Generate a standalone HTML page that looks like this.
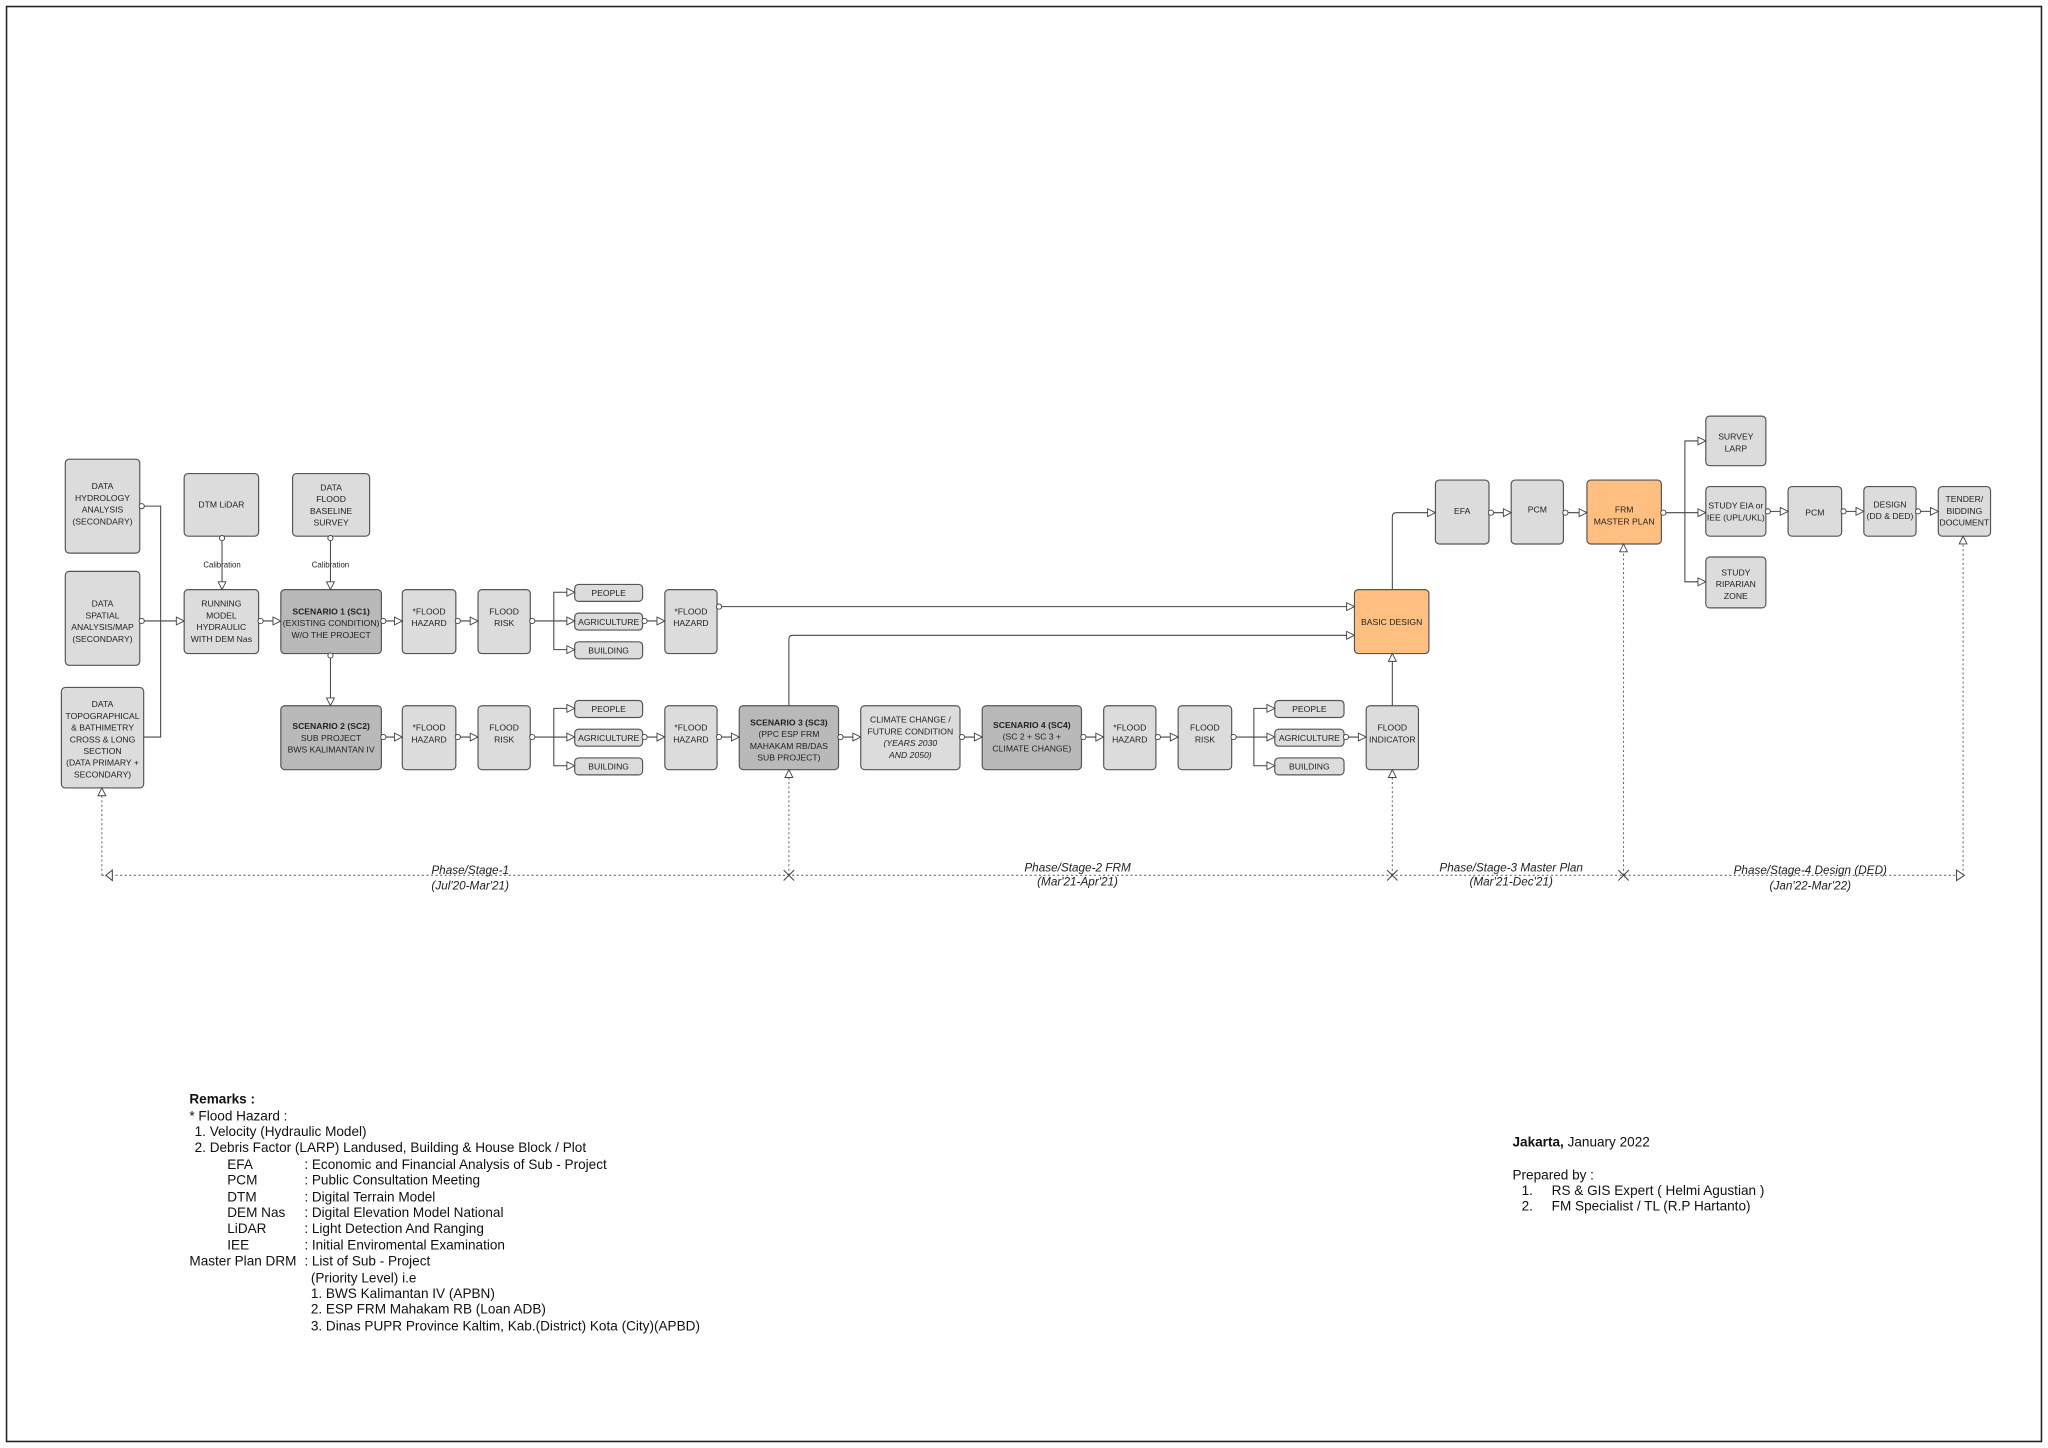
<!DOCTYPE html>
<html><head><meta charset="utf-8"><style>
html,body{margin:0;padding:0;background:#fff}
svg{display:block}
text{font-family:"Liberation Sans",Arial,sans-serif}
.n{font-size:6.6px;fill:#222}
.b{font-weight:bold}
.r{font-size:10.4px;fill:#111}
.p{font-size:9px;font-style:italic;fill:#222}
</style></head><body>
<svg width="2048" height="1448" viewBox="0 0 1568 1110" preserveAspectRatio="none" xmlns="http://www.w3.org/2000/svg">
<defs>
<marker id="a" markerWidth="8" markerHeight="8" refX="7" refY="4" orient="auto" markerUnits="userSpaceOnUse"><path d="M1,1 L7,4 L1,7 Z" fill="#fff" stroke="#444" stroke-width="0.7"/></marker>
<marker id="d" markerWidth="6" markerHeight="6" refX="1.5" refY="3" orient="auto" markerUnits="userSpaceOnUse"><circle cx="3" cy="3" r="2" fill="#fff" stroke="#444" stroke-width="0.7"/></marker>
</defs>
<rect x="5" y="5" width="1558" height="1100" fill="#fff" stroke="#222" stroke-width="1.2"/>
<g fill="#dcdcdc" stroke="#555" stroke-width="0.9">
<rect x="50" y="352" width="57" height="72" rx="3"/>
<rect x="50" y="438" width="57" height="72" rx="3"/>
<rect x="47" y="527" width="63" height="77" rx="3"/>
<rect x="141" y="363" width="57" height="48" rx="3"/>
<rect x="224" y="363" width="59" height="48" rx="3"/>
<rect x="141" y="452" width="57" height="49" rx="3"/>
<rect x="215" y="452" width="77" height="49" rx="3" fill="#b9b9b9"/>
<rect x="308" y="452" width="41" height="49" rx="3"/>
<rect x="366" y="452" width="40" height="49" rx="3"/>
<rect x="440" y="448" width="52" height="13" rx="3"/>
<rect x="440" y="470" width="52" height="13" rx="3"/>
<rect x="440" y="492" width="52" height="13" rx="3"/>
<rect x="509" y="452" width="40" height="49" rx="3"/>
<rect x="215" y="541" width="77" height="49" rx="3" fill="#b9b9b9"/>
<rect x="308" y="541" width="41" height="49" rx="3"/>
<rect x="366" y="541" width="40" height="49" rx="3"/>
<rect x="440" y="537" width="52" height="13" rx="3"/>
<rect x="440" y="559" width="52" height="13" rx="3"/>
<rect x="440" y="581" width="52" height="13" rx="3"/>
<rect x="509" y="541" width="40" height="49" rx="3"/>
<rect x="566" y="541" width="76" height="49" rx="3" fill="#b9b9b9"/>
<rect x="659" y="541" width="76" height="49" rx="3"/>
<rect x="752" y="541" width="76" height="49" rx="3" fill="#b9b9b9"/>
<rect x="845" y="541" width="40" height="49" rx="3"/>
<rect x="902" y="541" width="41" height="49" rx="3"/>
<rect x="976" y="537" width="53" height="13" rx="3"/>
<rect x="976" y="559" width="53" height="13" rx="3"/>
<rect x="976" y="581" width="53" height="13" rx="3"/>
<rect x="1046" y="541" width="40" height="49" rx="3"/>
<rect x="1037" y="452" width="57" height="49" rx="3" fill="#ffbf80"/>
<rect x="1099" y="368" width="41" height="49" rx="3"/>
<rect x="1157" y="368" width="40" height="49" rx="3"/>
<rect x="1215" y="368" width="57" height="49" rx="3" fill="#ffbf80"/>
<rect x="1306" y="319" width="46" height="38" rx="3"/>
<rect x="1306" y="373" width="46" height="38" rx="3"/>
<rect x="1306" y="427" width="46" height="39" rx="3"/>
<rect x="1369" y="373" width="41" height="38" rx="3"/>
<rect x="1427" y="373" width="40" height="38" rx="3"/>
<rect x="1484" y="373" width="40" height="38" rx="3"/>
</g>
<g fill="none" stroke="#444" stroke-width="0.8">
<path d="M107,388 H123 V565 H110" marker-start="url(#d)"/>
<path d="M107,476 H141" marker-start="url(#d)" marker-end="url(#a)"/>
<path d="M170,411 V452" marker-start="url(#d)" marker-end="url(#a)"/>
<path d="M253,411 V452" marker-start="url(#d)" marker-end="url(#a)"/>
<path d="M198,476 H215" marker-start="url(#d)" marker-end="url(#a)"/>
<path d="M292,476 H308" marker-start="url(#d)" marker-end="url(#a)"/>
<path d="M349,476 H366" marker-start="url(#d)" marker-end="url(#a)"/>
<path d="M406,476 H440" marker-start="url(#d)" marker-end="url(#a)"/>
<path d="M424,476 V454 H440" marker-end="url(#a)"/>
<path d="M424,476 V498 H440" marker-end="url(#a)"/>
<path d="M492,476 H509" marker-start="url(#d)" marker-end="url(#a)"/>
<path d="M253,501 V541" marker-start="url(#d)" marker-end="url(#a)"/>
<path d="M292,565 H308" marker-start="url(#d)" marker-end="url(#a)"/>
<path d="M349,565 H366" marker-start="url(#d)" marker-end="url(#a)"/>
<path d="M406,565 H440" marker-start="url(#d)" marker-end="url(#a)"/>
<path d="M424,565 V543 H440" marker-end="url(#a)"/>
<path d="M424,565 V587 H440" marker-end="url(#a)"/>
<path d="M492,565 H509" marker-start="url(#d)" marker-end="url(#a)"/>
<path d="M549,565 H566" marker-start="url(#d)" marker-end="url(#a)"/>
<path d="M642,565 H659" marker-start="url(#d)" marker-end="url(#a)"/>
<path d="M735,565 H752" marker-start="url(#d)" marker-end="url(#a)"/>
<path d="M828,565 H845" marker-start="url(#d)" marker-end="url(#a)"/>
<path d="M885,565 H902" marker-start="url(#d)" marker-end="url(#a)"/>
<path d="M943,565 H976" marker-start="url(#d)" marker-end="url(#a)"/>
<path d="M960,565 V543 H976" marker-end="url(#a)"/>
<path d="M960,565 V587 H976" marker-end="url(#a)"/>
<path d="M1029,565 H1046" marker-start="url(#d)" marker-end="url(#a)"/>
<path d="M549,465 H1037" marker-start="url(#d)" marker-end="url(#a)"/>
<path d="M604,541 V490 Q604,487 607,487 H1037" marker-end="url(#a)"/>
<path d="M1066,541 V501" marker-end="url(#a)"/>
<path d="M1066,452 V396 Q1066,393 1069,393 H1099" marker-end="url(#a)"/>
<path d="M1140,393 H1157" marker-start="url(#d)" marker-end="url(#a)"/>
<path d="M1197,393 H1215" marker-start="url(#d)" marker-end="url(#a)"/>
<path d="M1272,393 H1306" marker-start="url(#d)" marker-end="url(#a)"/>
<path d="M1290,393 V338 H1306" marker-end="url(#a)"/>
<path d="M1290,393 V446 H1306" marker-end="url(#a)"/>
<path d="M1352,392 H1369" marker-start="url(#d)" marker-end="url(#a)"/>
<path d="M1410,392 H1427" marker-start="url(#d)" marker-end="url(#a)"/>
<path d="M1467,392 H1484" marker-start="url(#d)" marker-end="url(#a)"/>
</g>
<g fill="none" stroke="#666" stroke-width="0.8" stroke-dasharray="1.5,2">
<path d="M78,671 H1503"/>
<path d="M78,671 V604" marker-end="url(#a)"/>
<path d="M604,671 V590" marker-end="url(#a)"/>
<path d="M1066,671 V590" marker-end="url(#a)"/>
<path d="M1243,671 V417" marker-end="url(#a)"/>
<path d="M1503,671 V411" marker-end="url(#a)"/>
</g>
<g stroke="#444" stroke-width="0.8" fill="#fff">
<path d="M80,667 L80,675 L75,671 Z" transform="translate(6,0)"/>
<path d="M1498,667 L1498,675 L1504,671 Z"/>
<path d="M600,667 l8,8 M608,667 l-8,8 M1062,667 l8,8 M1070,667 l-8,8 M1239,667 l8,8 M1247,667 l-8,8" fill="none"/>
</g>
<g class="n" text-anchor="middle">
<text x="78.5" y="375">DATA</text><text x="78.5" y="384">HYDROLOGY</text><text x="78.5" y="393">ANALYSIS</text><text x="78.5" y="402">(SECONDARY)</text>
<text x="78.5" y="465">DATA</text><text x="78.5" y="474">SPATIAL</text><text x="78.5" y="483">ANALYSIS/MAP</text><text x="78.5" y="492">(SECONDARY)</text>
<text x="78.5" y="542">DATA</text><text x="78.5" y="551">TOPOGRAPHICAL</text><text x="78.5" y="560">&amp; BATHIMETRY</text><text x="78.5" y="569">CROSS &amp; LONG</text><text x="78.5" y="578">SECTION</text><text x="78.5" y="587">(DATA PRIMARY +</text><text x="78.5" y="596">SECONDARY)</text>
<text x="169.5" y="389">DTM LiDAR</text>
<text x="253.5" y="376">DATA</text><text x="253.5" y="385">FLOOD</text><text x="253.5" y="394">BASELINE</text><text x="253.5" y="403">SURVEY</text>
<text x="170" y="435" font-size="6">Calibration</text><text x="253" y="435" font-size="6">Calibration</text>
<text x="169.5" y="465">RUNNING</text><text x="169.5" y="474">MODEL</text><text x="169.5" y="483">HYDRAULIC</text><text x="169.5" y="492">WITH DEM Nas</text>
<text x="253.5" y="471" class="n b">SCENARIO 1 (SC1)</text><text x="253.5" y="480">(EXISTING CONDITION)</text><text x="253.5" y="489">W/O THE  PROJECT</text>
<text x="328.5" y="471">*FLOOD</text><text x="328.5" y="480">HAZARD</text>
<text x="386" y="471">FLOOD</text><text x="386" y="480">RISK</text>
<text x="466" y="457">PEOPLE</text><text x="466" y="479">AGRICULTURE</text><text x="466" y="501">BUILDING</text>
<text x="529" y="471">*FLOOD</text><text x="529" y="480">HAZARD</text>
<text x="253.5" y="559" class="n b">SCENARIO 2 (SC2)</text><text x="253.5" y="568">SUB PROJECT</text><text x="253.5" y="577">BWS KALIMANTAN IV</text>
<text x="328.5" y="560">*FLOOD</text><text x="328.5" y="569">HAZARD</text>
<text x="386" y="560">FLOOD</text><text x="386" y="569">RISK</text>
<text x="466" y="546">PEOPLE</text><text x="466" y="568">AGRICULTURE</text><text x="466" y="590">BUILDING</text>
<text x="529" y="560">*FLOOD</text><text x="529" y="569">HAZARD</text>
<text x="604" y="556" class="n b">SCENARIO 3 (SC3)</text><text x="604" y="565">(PPC ESP FRM</text><text x="604" y="574">MAHAKAM RB/DAS</text><text x="604" y="583">SUB PROJECT)</text>
<text x="697" y="554">CLIMATE CHANGE /</text><text x="697" y="563">FUTURE CONDITION</text><text x="697" y="572" font-style="italic">(YEARS 2030</text><text x="697" y="581" font-style="italic">AND 2050)</text>
<text x="790" y="558" class="n b">SCENARIO 4 (SC4)</text><text x="790" y="567">(SC 2 + SC 3 +</text><text x="790" y="576">CLIMATE CHANGE)</text>
<text x="865" y="560">*FLOOD</text><text x="865" y="569">HAZARD</text>
<text x="922.5" y="560">FLOOD</text><text x="922.5" y="569">RISK</text>
<text x="1002.5" y="546">PEOPLE</text><text x="1002.5" y="568">AGRICULTURE</text><text x="1002.5" y="590">BUILDING</text>
<text x="1066" y="560">FLOOD</text><text x="1066" y="569">INDICATOR</text>
<text x="1065.5" y="479">BASIC DESIGN</text>
<text x="1119.5" y="394">EFA</text>
<text x="1177" y="393">PCM</text>
<text x="1243.5" y="393">FRM</text><text x="1243.5" y="402">MASTER PLAN</text>
<text x="1329" y="337">SURVEY</text><text x="1329" y="346">LARP</text>
<text x="1329" y="390">STUDY EIA or</text><text x="1329" y="399">IEE (UPL/UKL)</text>
<text x="1329" y="441">STUDY</text><text x="1329" y="450">RIPARIAN</text><text x="1329" y="459">ZONE</text>
<text x="1389.5" y="395">PCM</text>
<text x="1447" y="389">DESIGN</text><text x="1447" y="398">(DD &amp; DED)</text>
<text x="1504" y="385">TENDER/</text><text x="1504" y="394">BIDDING</text><text x="1504" y="403">DOCUMENT</text>
</g>
<g class="p" text-anchor="middle">
<text x="360" y="670">Phase/Stage-1</text><text x="360" y="682">(Jul'20-Mar'21)</text>
<text x="825" y="668">Phase/Stage-2 FRM</text><text x="825" y="679">(Mar'21-Apr'21)</text>
<text x="1157" y="668">Phase/Stage-3 Master Plan</text><text x="1157" y="679">(Mar'21-Dec'21)</text>
<text x="1386" y="670">Phase/Stage-4  Design (DED)</text><text x="1386" y="682">(Jan'22-Mar'22)</text>
</g>
<g class="r">
<text x="145" y="846" font-weight="bold">Remarks :</text>
<text x="145" y="859">* Flood Hazard :</text>
<text x="149" y="871">1. Velocity (Hydraulic Model)</text>
<text x="149" y="883">2. Debris Factor (LARP) Landused, Building &amp; House Block / Plot</text>
<text x="174" y="896">EFA</text><text x="233" y="896">: Economic and Financial Analysis of Sub - Project</text>
<text x="174" y="908">PCM</text><text x="233" y="908">: Public Consultation Meeting</text>
<text x="174" y="921">DTM</text><text x="233" y="921">: Digital Terrain Model</text>
<text x="174" y="933">DEM Nas</text><text x="233" y="933">: Digital Elevation Model National</text>
<text x="174" y="945">LiDAR</text><text x="233" y="945">: Light Detection And Ranging</text>
<text x="174" y="958">IEE</text><text x="233" y="958">: Initial Enviromental Examination</text>
<text x="145" y="970">Master Plan DRM</text><text x="233" y="970">: List of Sub - Project</text>
<text x="238" y="983">(Priority Level) i.e</text>
<text x="238" y="995">1. BWS Kalimantan IV (APBN)</text>
<text x="238" y="1007">2. ESP FRM Mahakam RB (Loan ADB)</text>
<text x="238" y="1020">3. Dinas PUPR Province Kaltim, Kab.(District) Kota (City)(APBD)</text>
<text x="1158" y="879"><tspan font-weight="bold">Jakarta,</tspan> January 2022</text>
<text x="1158" y="904">Prepared by :</text>
<text x="1165" y="916">1.</text><text x="1188" y="916">RS &amp; GIS Expert ( Helmi Agustian )</text>
<text x="1165" y="928">2.</text><text x="1188" y="928">FM Specialist / TL (R.P Hartanto)</text>
</g>
</svg>
</body></html>
